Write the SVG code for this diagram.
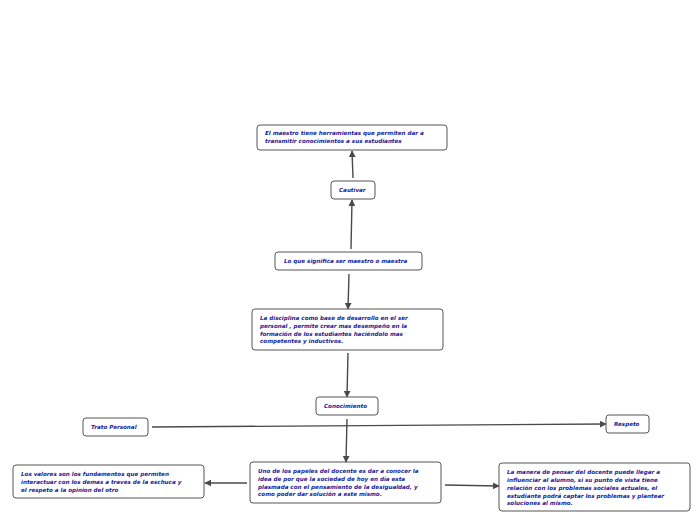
<svg xmlns="http://www.w3.org/2000/svg" width="696" height="520" viewBox="0 0 696 520">
<style>
.n rect{fill:#fff;stroke:#555;stroke-width:1}
.n text{font-family:"DejaVu Sans",Verdana,sans-serif;font-size:5.6px;font-weight:bold;font-style:italic;fill:#1b1b9a}
.c path{stroke:#4a4a4a;stroke-width:1.4;fill:none;marker-end:url(#a)}
</style>
<defs><marker id="a" viewBox="0 0 10 10" refX="9" refY="5" markerWidth="5" markerHeight="5" orient="auto"><path d="M0,0L10,5L0,10z" fill="#4a4a4a"/></marker></defs>
<rect width="696" height="520" fill="#fff"/>
<g class="c">
<path d="M353,178L352,151"/>
<path d="M351,249L352,200"/>
<path d="M349,274L348,309"/>
<path d="M348,353L347,397"/>
<path d="M347,419L346,462"/>
<path d="M152,427L606,424"/>
<path d="M247,483L205,483"/>
<path d="M445,485L499,486"/>
</g>
<g class="n" id="n1"><rect x="257" y="125" width="190" height="25" rx="3"/><text x="265" y="135">El maestro tiene herramientas que permiten dar a</text><text x="265" y="143">transmitir conocimientos a sus estudiantes</text></g>
<g class="n" id="n2"><rect x="331" y="181" width="44" height="18" rx="3"/><text x="339" y="192">Cautivar</text></g>
<g class="n" id="n3"><rect x="275" y="252" width="147" height="18" rx="3"/><text x="284" y="263">Lo que significa ser maestro o maestra</text></g>
<g class="n" id="n4"><rect x="252" y="309" width="191" height="41" rx="3"/><text x="260" y="320">La disciplina como base de desarrollo en el ser</text><text x="260" y="328">personal , permite crear mas desempeño en la</text><text x="260" y="336">formación de los estudiantes haciéndolo mas</text><text x="260" y="343">competentes y inductivos.</text></g>
<g class="n" id="n5"><rect x="316" y="397" width="62" height="18" rx="3"/><text x="324" y="408">Conocimiento</text></g>
<g class="n" id="n6"><rect x="83" y="418" width="65" height="18" rx="3"/><text x="91" y="429">Trato Personal</text></g>
<g class="n" id="n7"><rect x="606" y="415" width="43" height="18" rx="3"/><text x="614" y="426">Respeto</text></g>
<g class="n" id="n8"><rect x="250" y="462" width="191" height="41" rx="3"/><text x="258" y="473">Uno de los papeles del docente es dar a conocer la</text><text x="258" y="481">idea de por que la sociedad de hoy en día esta</text><text x="258" y="489">plasmada con el pensamiento de la desigualdad, y</text><text x="258" y="496">como poder dar solución a este mismo.</text></g>
<g class="n" id="n9"><rect x="13" y="465" width="191" height="33" rx="3"/><text x="21" y="476">Los valores son los fundamentos que permiten</text><text x="21" y="484">interactuar con los demas a traves de la eschuca y</text><text x="21" y="492">el respeto a la opinion del otro</text></g>
<g class="n" id="n10"><rect x="499" y="463" width="191" height="48" rx="3"/><text x="507" y="474">La manera de pensar del docente puede llegar a</text><text x="507" y="482">influenciar al alumno, si su punto de vista tiene</text><text x="507" y="490">relación con los problemas sociales actuales, el</text><text x="507" y="498">estudiante podrá captar los problemas y plantear</text><text x="507" y="505">soluciones al mismo.</text></g>
</svg>
